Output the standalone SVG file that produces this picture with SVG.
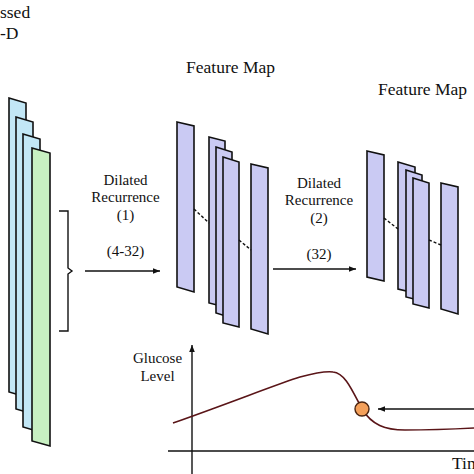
<svg xmlns="http://www.w3.org/2000/svg" width="474" height="474" viewBox="0 0 474 474">
<defs>
<style>
text{font-family:"Liberation Serif","Times New Roman","DejaVu Serif",serif;fill:#111}
.s15{font-size:15px}
.s17{font-size:17.5px}
.cy{fill:#C2E7F6;stroke:#111;stroke-width:1.6}
.gr{fill:#C8F0C2;stroke:#111;stroke-width:1.6}
.lv{fill:#CACAF3;stroke:#111;stroke-width:1.6}
.ln{stroke:#111;stroke-width:1.4;fill:none}
.da{stroke:#111;stroke-width:1.4;stroke-dasharray:3 2;fill:none}
</style>
<marker id="ah" viewBox="0 0 10 10" refX="10" refY="5" markerWidth="7" markerHeight="7" markerUnits="userSpaceOnUse" orient="auto">
<path d="M0,1 L10,5 L0,9 Z" fill="#111"/>
</marker>
</defs>
<rect width="474" height="474" fill="#fff"/>

<g id="input-label">
<text class="s17" x="0" y="18" font-family="Liberation Serif, serif">ssed</text>
<text class="s17" x="0" y="39" font-family="Liberation Serif, serif">-D</text>
</g>

<g id="input-layers">
<polygon class="cy" points="9,98 26,103 26,397 9,392"/>
<polygon class="cy" points="16,117 33,122 33,414 16,409"/>
<polygon class="cy" points="23,134 40,139 40,432 23,427"/>
<polygon class="gr" points="32,148 50,153 50,446 32,441"/>
</g>

<g id="bracket">
<path class="ln" d="M59,211 L68,211 L68,268 L72,271 L68,274 L68,331 L59,331"/>
</g>

<g id="fm1-label"><text class="s17" x="230.5" y="73" text-anchor="middle" font-family="Liberation Serif, serif">Feature Map</text></g>
<g id="feature-map-1">
<polygon class="lv" points="177,122 194,126 194,292 177,287"/>
<polygon class="lv" points="209,137 225,141 225,307 209,303"/>
<polygon class="lv" points="216,147 232,152 232,318 216,313"/>
<polygon class="lv" points="223,157 239,162 239,327 223,323"/>
<polygon class="lv" points="251,164 268,168 268,334 251,329"/>
</g>

<g id="fm2-label"><text class="s17" x="422.5" y="95" text-anchor="middle" font-family="Liberation Serif, serif">Feature Map</text></g>
<g id="feature-map-2">
<polygon class="lv" points="367,151 384,155 384,281 367,277"/>
<polygon class="lv" points="398,162 415,167 415,293 398,289"/>
<polygon class="lv" points="406,170 422,175 422,301 406,297"/>
<polygon class="lv" points="413,178 429,183 429,308 413,304"/>
<polygon class="lv" points="441,183 458,187 458,314 441,309"/>
</g>

<g id="dr1-label" class="s15" text-anchor="middle" font-family="Liberation Serif, serif">
<text x="125.5" y="185">Dilated</text>
<text x="125.5" y="202">Recurrence</text>
<text x="125.5" y="220">(1)</text>
<text x="125.5" y="256">(4-32)</text>
</g>
<g id="dr2-label" class="s15" text-anchor="middle" font-family="Liberation Serif, serif">
<text x="319" y="188">Dilated</text>
<text x="319" y="205">Recurrence</text>
<text x="319" y="223">(2)</text>
<text x="319" y="259">(32)</text>
</g>

<g id="glucose-label" class="s15" text-anchor="middle" font-family="Liberation Serif, serif">
<text x="157.5" y="363">Glucose</text>
<text x="157.5" y="381">Level</text>
</g>
<g id="time-label"><text class="s17" x="452" y="469" font-family="Liberation Serif, serif">Time</text></g>

<g id="connectors">
<line class="ln" x1="85" y1="271" x2="160" y2="271" marker-end="url(#ah)"/>
<line class="ln" x1="273" y1="269" x2="356" y2="269" marker-end="url(#ah)"/>
<line class="da" x1="194" y1="209" x2="209" y2="223"/>
<line class="da" x1="239" y1="240" x2="251" y2="250"/>
<line class="da" x1="384" y1="218" x2="398" y2="229"/>
<line class="da" x1="429" y1="240" x2="441" y2="245"/>
<line class="ln" x1="192" y1="474" x2="192" y2="345" marker-end="url(#ah)"/>
<line class="ln" x1="168" y1="451" x2="474" y2="451"/>
<line class="ln" x1="474" y1="409" x2="378" y2="409" marker-end="url(#ah)"/>
</g>

<g id="glucose-curve">
<path d="M173,423 C230,403 280,383 300,377 C315,373 325,371 333,372 C345,373 352,390 362,409 C372,425 385,430 405,430 C430,430 455,429 474,428" fill="none" stroke="#5A1518" stroke-width="1.6"/>
<circle cx="362" cy="409" r="7" fill="#F4A05A" stroke="#4a2410" stroke-width="1.4"/>
</g>
</svg>
